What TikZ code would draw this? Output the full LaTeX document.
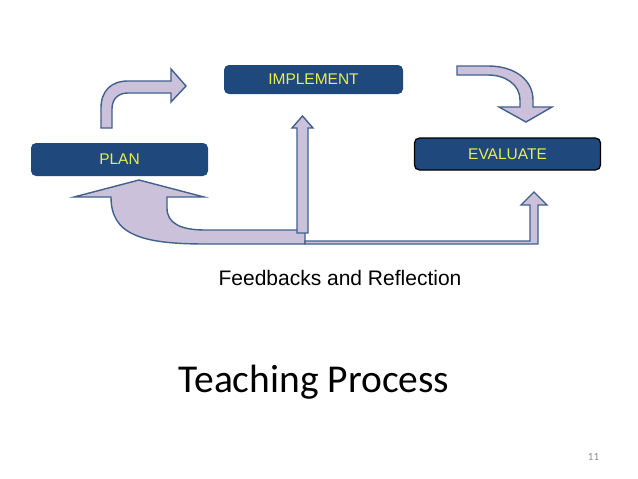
\documentclass[tikz,border=0pt]{standalone}
\usepackage{fontspec}
\setmainfont{Liberation Sans}
\newfontfamily\calib{Carlito}
\definecolor{boxblue}{RGB}{31,73,125}
\definecolor{boxtext}{RGB}{232,238,80}
\definecolor{arrfill}{RGB}{204,193,218}
\definecolor{arrline}{RGB}{66,96,140}
\definecolor{pagegray}{RGB}{140,140,140}
\tikzset{
  stagebox/.style={fill=boxblue, rounded corners=5pt, inner sep=0pt, text=boxtext, font=\fontsize{15.5}{17}\selectfont},
  blockarrow/.style={fill=arrfill, draw=arrline, line width=1.4pt, line join=miter}
}
\begin{document}
\begin{tikzpicture}[x=1pt,y=-1pt]
\useasboundingbox[fill=white] (0,0) rectangle (638,479);
% stage boxes
\node[stagebox, minimum width=177pt, minimum height=33pt] (plan) at (119.5,159.5) {PLAN};
\node[stagebox, minimum width=179pt, minimum height=29pt] (impl) at (313.5,79.5) {IMPLEMENT};
\node[stagebox, draw=black, line width=1.3pt, minimum width=186pt, minimum height=32pt] (eval) at (507.5,154) {EVALUATE};
% curved arrow plan -> implement
\draw[blockarrow] (101,128) -- (101,108) .. controls (101,91) and (111,81) .. (128,81) -- (171,81) -- (171,69) -- (186,86) -- (171,102) -- (171,93) -- (128,93) .. controls (118,93) and (112,99) .. (112,109) -- (112,128) -- cycle;
% curved arrow implement -> evaluate
\draw[blockarrow] (457,66) -- (488,66) .. controls (515,66) and (533,80) .. (533,100) -- (533,107) -- (552,107) -- (526,122) -- (499,107) -- (520,107) -- (520,100) .. controls (520,85) and (506,75) .. (488,75) -- (457,75) -- cycle;
% big feedback arrow into plan
\draw[blockarrow] (74,197) -- (139,180) -- (204,197) -- (167,197) -- (167,208) .. controls (167,223) and (180,230) .. (205,230) -- (305,230) -- (305,244) -- (205,244) .. controls (140,244) and (111,234) .. (111,197) -- cycle;
% strip and arrow into evaluate
\draw[blockarrow] (305,241) -- (530,241) -- (530,205) -- (521,205) -- (534,192) -- (547,205) -- (538,205) -- (538,244) -- (305,244) -- cycle;
% vertical arrow into implement
\draw[blockarrow] (297,233) -- (297,128) -- (292,128) -- (302.5,116) -- (313,128) -- (308,128) -- (308,233) -- cycle;
% texts
\node[anchor=base, font=\fontsize{21}{23}\selectfont] (fb) at (340,285) {Feedbacks and Reflection};
\node[anchor=base, font=\calib\fontsize{39.5}{41}\selectfont] (title) at (314,392) {Teaching Process};
\node[anchor=base, text=pagegray, font=\calib\fontsize{11}{12}\selectfont] (pg) at (593.5,460) {11};
\end{tikzpicture}
\end{document}
